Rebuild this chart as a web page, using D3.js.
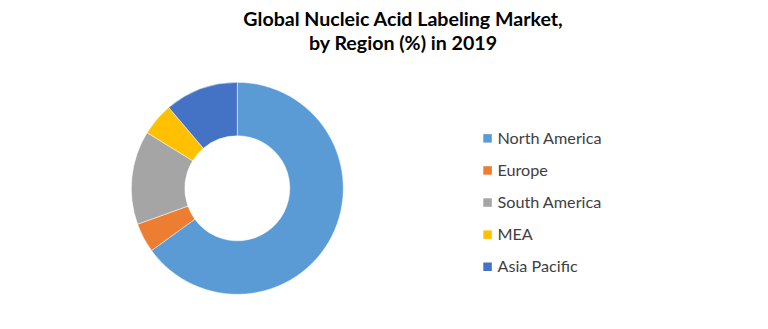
<!DOCTYPE html>
<html>
<head>
<meta charset="utf-8">
<script src="https://cdn.jsdelivr.net/npm/d3@7"></script>
<style>
  html, body { margin: 0; padding: 0; background: #fff; }
  svg { display: block; }
</style>
</head>
<body>
<svg id="chart" width="768" height="329"></svg>
<script>
const categories = ["North America", "Europe", "South America", "MEA", "Asia Pacific"];
const shares = [65.0, 4.5, 14.3, 5.0, 11.2];
const colors = ["#5B9BD5", "#ED7D31", "#A5A5A5", "#FFC000", "#4472C4"];
const titleLines = ["Global Nucleic Acid Labeling Market,", "by Region (%) in 2019"];

const data = categories.map((c, i) => ({ name: c, value: shares[i], color: colors[i] }));

const svg = d3.select("#chart");
const fontFam = "Lato, 'Open Sans', sans-serif";

// Title
svg.append("g").selectAll("text")
  .data(titleLines)
  .join("text")
  .attr("x", 403)
  .attr("y", (d, i) => 25.5 + i * 24.5)
  .attr("text-anchor", "middle")
  .attr("font-family", fontFam)
  .attr("font-weight", "bold")
  .attr("font-size", 19.6)
  .attr("fill", "#000")
  .text(d => d);

// Donut
const cx = 237.3, cy = 188.3, rOuter = 106, rInner = 52.5;
const pie = d3.pie().sort(null).value(d => d.value);
const arc = d3.arc().innerRadius(rInner).outerRadius(rOuter);

svg.append("g")
  .attr("transform", `translate(${cx},${cy})`)
  .selectAll("path")
  .data(pie(data))
  .join("path")
  .attr("d", arc)
  .attr("fill", d => d.data.color)
  .attr("stroke", "#fff")
  .attr("stroke-width", 0.5);

// Legend
const legendY = d3.scalePoint().domain(categories).range([138.3, 266.7]);
const lg = svg.append("g").selectAll("g")
  .data(data)
  .join("g")
  .attr("transform", d => `translate(483.3, ${legendY(d.name)})`);
lg.append("rect")
  .attr("x", 0).attr("y", -4.2)
  .attr("width", 8.5).attr("height", 8.5)
  .attr("fill", d => d.color);
lg.append("text")
  .attr("x", 14.2)
  .attr("y", 5.2)
  .attr("font-family", fontFam)
  .attr("font-size", 16.2)
  .attr("fill", "#404040")
  .text(d => d.name);
</script>
</body>
</html>
